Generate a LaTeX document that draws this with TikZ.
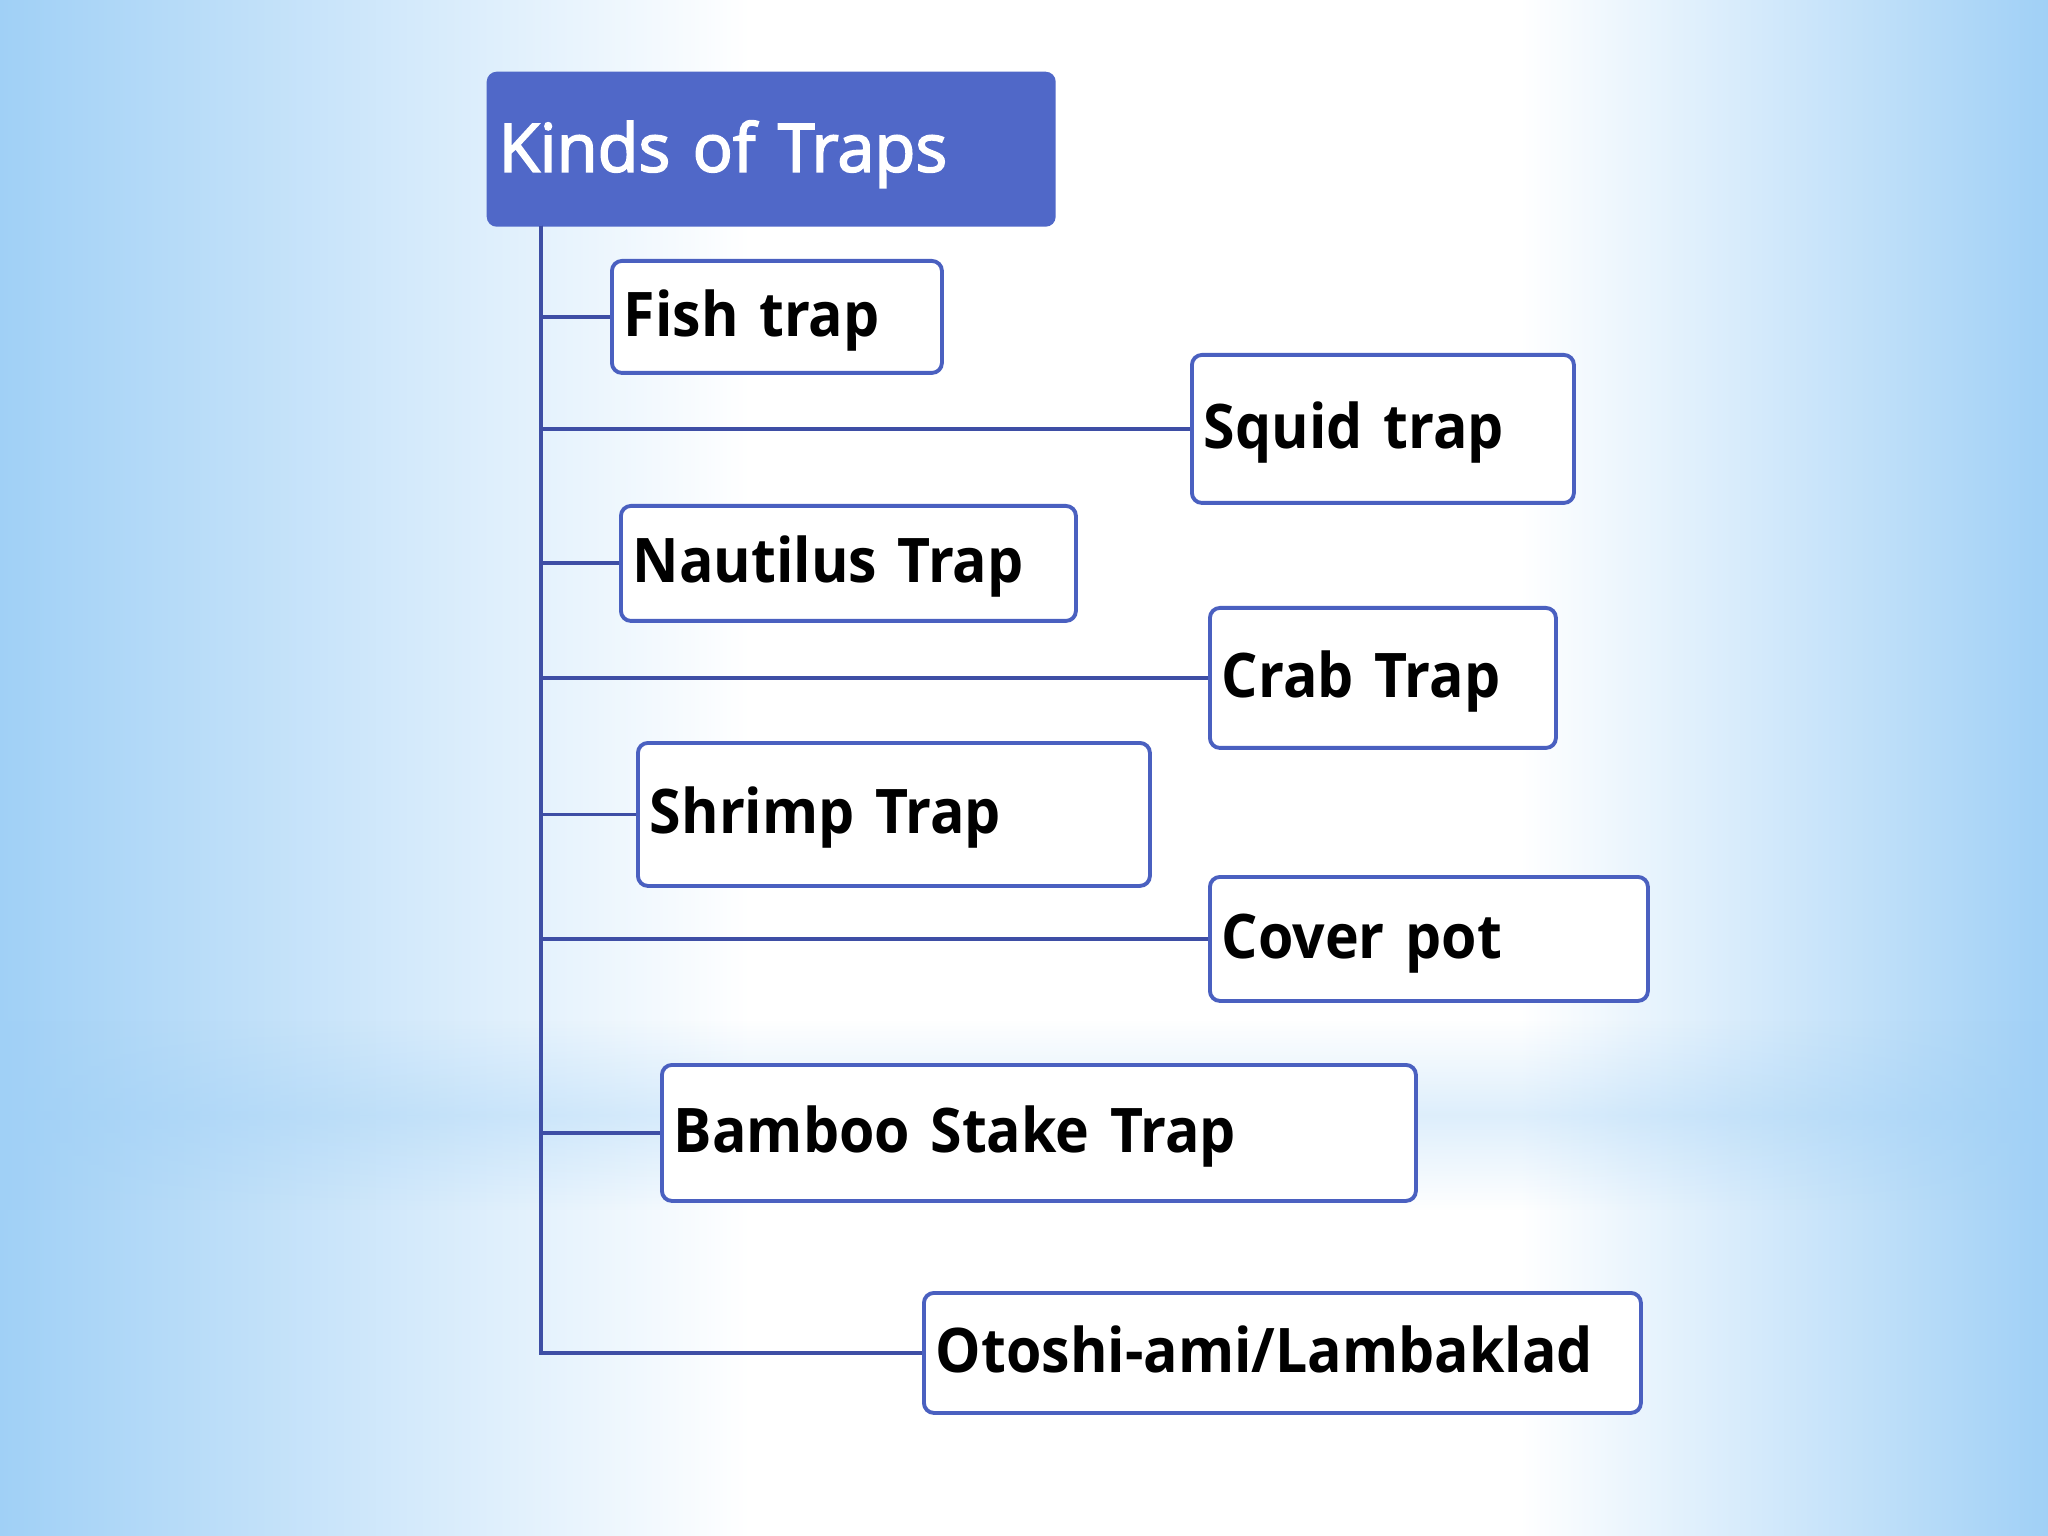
\documentclass[tikz,border=0pt]{standalone}
\usepackage{fontspec}
\setmainfont{Open Sans}
\newfontfamily\itemfont[FakeStretch=0.93]{Open Sans}
\newfontfamily\titlefont[FakeBold=2.5]{Open Sans}
\usetikzlibrary{fadings}
\definecolor{bgblue}{RGB}{160,208,246}
\definecolor{titlefill}{RGB}{80,104,200}
\definecolor{boxline}{RGB}{74,96,192}
\definecolor{connline}{RGB}{62,78,165}
\tikzfading[name=bandfade, top color=transparent!100, bottom color=transparent!100, middle color=transparent!65]
\begin{document}
\begin{tikzpicture}[x=1cm,y=1cm,
  titlebox/.style={fill=titlefill, rounded corners=0.1cm, anchor=north west, inner xsep=0.12cm, inner ysep=0pt, align=left, text=white, font=\titlefont\fontsize{19}{22}\selectfont, text height=0.48cm, text depth=0.03cm},
  itembox/.style={draw=boxline, line width=1.1pt, fill=white, rounded corners=0.1cm, anchor=north west, inner xsep=0.12cm, inner ysep=0pt, align=left, font=\itemfont\bfseries\fontsize{17.5}{21}\selectfont, text height=0.44cm, text depth=0.05cm},
  conn/.style={draw=connline, line width=1.1pt}]
% background
\useasboundingbox (0,0) rectangle (20.48,-15.36);
\fill[white] (0,0) rectangle (20.48,-15.36);
\shade[left color=bgblue, middle color=bgblue!40!white, right color=white] (0,0) rectangle (7.5,-15.36);
\shade[left color=white, middle color=bgblue!40!white, right color=bgblue] (15.2,0) rectangle (20.48,-15.36);
\fill[bgblue, path fading=bandfade] (0,-10.2) rectangle (20.48,-12.1);
% nodes
\node[titlebox, minimum width=5.69cm, minimum height=1.55cm, text width=5.45cm] (title) at (4.86,-0.71) {\mbox{Kinds of Traps}};
\node[itembox, minimum height=1.12cm, text width=3.06cm] (fish) at (6.10,-2.59) {\mbox{Fish trap}};
\node[itembox, minimum height=1.48cm, text width=3.58cm] (squid) at (11.90,-3.53) {\mbox{Squid trap}};
\node[itembox, minimum height=1.15cm, text width=4.31cm] (naut) at (6.19,-5.04) {\mbox{Nautilus Trap}};
\node[itembox, minimum height=1.40cm, text width=3.22cm] (crab) at (12.08,-6.06) {\mbox{Crab Trap}};
\node[itembox, minimum height=1.43cm, text width=4.88cm] (shrimp) at (6.36,-7.41) {\mbox{Shrimp Trap}};
\node[itembox, minimum height=1.24cm, text width=4.14cm] (cover) at (12.08,-8.75) {\mbox{Cover pot}};
\node[itembox, minimum height=1.36cm, text width=7.30cm] (bamboo) at (6.60,-10.63) {\mbox{Bamboo Stake Trap}};
\node[itembox, minimum height=1.20cm, text width=6.93cm] (otoshi) at (9.22,-12.91) {\mbox{Otoshi-ami/Lambaklad}};
% connectors
\coordinate (trunk) at (5.41,-2.26);
\foreach \b in {fish,squid,naut,crab,shrimp,cover,bamboo,otoshi}
  \draw[conn] (trunk) |- (\b.west);
\end{tikzpicture}
\end{document}
